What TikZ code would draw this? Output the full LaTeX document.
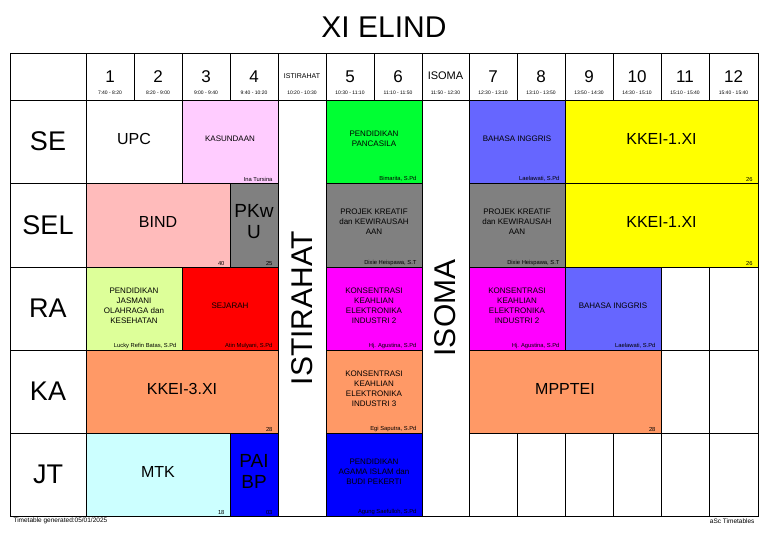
\documentclass[tikz,border=0pt]{standalone}
\usepackage{fontspec}
\setmainfont{Liberation Sans}
\definecolor{cpink}{HTML}{FFCCFF}
\definecolor{cgreen}{HTML}{00FF33}
\definecolor{cblue}{HTML}{6666FF}
\definecolor{cyel}{HTML}{FFFF00}
\definecolor{crose}{HTML}{FFBBBB}
\definecolor{cgray}{HTML}{808080}
\definecolor{clime}{HTML}{DDFF99}
\definecolor{cred}{HTML}{FF0000}
\definecolor{cmag}{HTML}{FF00FF}
\definecolor{corg}{HTML}{FF9966}
\definecolor{ccyan}{HTML}{CCFFFF}
\definecolor{cdblue}{HTML}{0000FF}
\tikzset{cellbox/.style={draw=black,line width=0.8pt},
 big/.style={font=\fontsize{16}{18}\selectfont,align=center},
 huge/.style={font=\fontsize{19}{21}\selectfont,align=center},
 small/.style={font=\fontsize{8}{10}\selectfont,align=center},
 tiny/.style={font=\fontsize{5}{6}\selectfont},
 tchr/.style={font=\fontsize{5.8}{7}\selectfont}}
\newcommand{\cellx}[8]{%
 \path[cellbox,fill=#5] (#1,#2) rectangle (#3,#4);
 \node[#6] at ({(#1+#3)/2},{(#2+#4)/2-3}) {#7};
 \node[tchr,anchor=south east] at (#3-2,#4+2) {#8};}
\begin{document}
\begin{tikzpicture}[x=1pt,y=-1pt]
\useasboundingbox (0,0) rectangle (768,543);
\fill[white] (0,0) rectangle (768,543);
\node[font=\fontsize{30}{32}\selectfont] (title) at (384,27) {XI ELIND};
% header
\draw[cellbox] (10,53) rectangle (758,516);
\foreach \xa/\xb/\n/\t in {86/134/1/7:40 - 8:20,134/182/2/8:20 - 9:00,182/230/3/9:00 - 9:40,230/278/4/9:40 - 10:20,326/374/5/10:30 - 11:10,374/422/6/11:10 - 11:50,469/517/7/12:30 - 13:10,517/565/8/13:10 - 13:50,565/613/9/13:50 - 14:30,613/661/10/14:30 - 15:10,661/709/11/15:10 - 15:40,709/758/12/15:40 - 15:40}{
 \draw[cellbox] (\xa,53) rectangle (\xb,100);
 \node[font=\fontsize{17}{18}\selectfont] at ({(\xa+\xb)/2},77) {\n};
 \node[tiny] at ({(\xa+\xb)/2},93) {\t};}
\draw[cellbox] (278,53) rectangle (326,100);
\node[font=\fontsize{7}{8}\selectfont] at (302,76) {ISTIRAHAT};
\node[tiny] at (302,93) {10:20 - 10:30};
\draw[cellbox] (422,53) rectangle (469,100);
\node[font=\fontsize{11}{12}\selectfont] at (445.5,76) {ISOMA};
\node[tiny] at (445.5,93) {11:50 - 12:30};
% day labels
\foreach \ya/\yb/\d in {100/183/SE,183/267/SEL,267/350/RA,350/433/KA,433/516/JT}{
 \draw[cellbox] (10,\ya) rectangle (86,\yb);
 \node[font=\fontsize{27}{28}\selectfont] at (48,{(\ya+\yb)/2}) {\d};}
% breaks
\draw[cellbox] (278,100) rectangle (326,516);
\node[font=\fontsize{30}{30}\selectfont,rotate=90] (ist) at (302,308) {ISTIRAHAT};
\draw[cellbox] (422,100) rectangle (469,516);
\node[font=\fontsize{30}{30}\selectfont,rotate=90] (iso) at (445.5,308) {ISOMA};
% empty cells
\foreach \xa/\xb in {661/709,709/758}{\draw[cellbox] (\xa,267) rectangle (\xb,350); \draw[cellbox] (\xa,350) rectangle (\xb,433);}
\foreach \xa/\xb in {469/517,517/565,565/613,613/661,661/709,709/758}{\draw[cellbox] (\xa,433) rectangle (\xb,516);}
% SE
\cellx{86}{100}{182}{183}{white}{big}{UPC}{}
\cellx{182}{100}{278}{183}{cpink}{small}{KASUNDAAN}{Ina Tursina}
\cellx{326}{100}{422}{183}{cgreen}{small}{PENDIDIKAN\\PANCASILA}{Bimarita, S.Pd}
\cellx{469}{100}{565}{183}{cblue}{small}{BAHASA INGGRIS}{Laelawati, S.Pd}
\cellx{565}{100}{758}{183}{cyel}{big}{KKEI-1.XI}{26}
% SEL
\cellx{86}{183}{230}{267}{crose}{big}{BIND}{40}
\cellx{230}{183}{278}{267}{cgray}{huge}{PKw\\U}{25}
\cellx{326}{183}{422}{267}{cgray}{small}{PROJEK KREATIF\\dan KEWIRAUSAH\\AAN}{Dixie Heispawa, S.T}
\cellx{469}{183}{565}{267}{cgray}{small}{PROJEK KREATIF\\dan KEWIRAUSAH\\AAN}{Dixie Heispawa, S.T}
\cellx{565}{183}{758}{267}{cyel}{big}{KKEI-1.XI}{26}
% RA
\cellx{86}{267}{182}{350}{clime}{small}{PENDIDIKAN\\JASMANI\\OLAHRAGA dan\\KESEHATAN}{Lucky Refin Batas, S.Pd}
\cellx{182}{267}{278}{350}{cred}{small}{SEJARAH}{Atin Mulyani, S.Pd}
\cellx{326}{267}{422}{350}{cmag}{small}{KONSENTRASI\\KEAHLIAN\\ELEKTRONIKA\\INDUSTRI 2}{Hj. Agustina, S.Pd}
\cellx{469}{267}{565}{350}{cmag}{small}{KONSENTRASI\\KEAHLIAN\\ELEKTRONIKA\\INDUSTRI 2}{Hj. Agustina, S.Pd}
\cellx{565}{267}{661}{350}{cblue}{small}{BAHASA INGGRIS}{Laelawati, S.Pd}
% KA
\cellx{86}{350}{278}{433}{corg}{big}{KKEI-3.XI}{28}
\cellx{326}{350}{422}{433}{corg}{small}{KONSENTRASI\\KEAHLIAN\\ELEKTRONIKA\\INDUSTRI 3}{Egi Saputra, S.Pd}
\cellx{469}{350}{661}{433}{corg}{big}{MPPTEI}{28}
% JT
\cellx{86}{433}{230}{516}{ccyan}{big}{MTK}{18}
\cellx{230}{433}{278}{516}{cdblue}{huge}{PAI\\BP}{03}
\cellx{326}{433}{422}{516}{cdblue}{small}{PENDIDIKAN\\AGAMA ISLAM dan\\BUDI PEKERTI}{Agung Saefulloh, S.Pd}
% footer
\node[font=\fontsize{6.5}{7}\selectfont,anchor=west] (gen) at (10,521) {Timetable generated:05/01/2025};
\node[font=\fontsize{6.5}{7}\selectfont,anchor=east] (asc) at (758,521) {aSc Timetables};
\end{tikzpicture}
\end{document}
